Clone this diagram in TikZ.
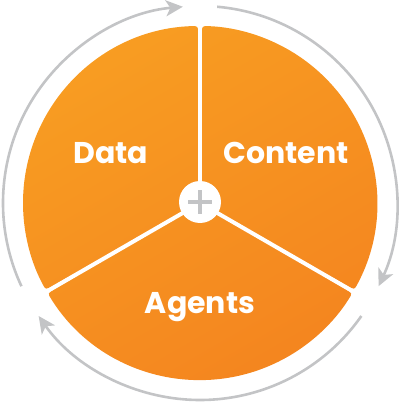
\documentclass[tikz,border=0pt]{standalone}
\usepackage{fontspec}
\setmainfont{Poppins}
\usetikzlibrary{arrows.meta}
\definecolor{orA}{HTML}{F89E22}
\definecolor{orB}{HTML}{F4841F}
\definecolor{ringgray}{HTML}{C3C4C6}
\begin{document}
\begin{tikzpicture}[x=1pt,y=1pt,
  ringarc/.style={draw=ringgray,line width=2.6pt,
    -{Stealth[length=17pt,width=16pt,inset=4.5pt]}},
  label/.style={text=white,font=\fontsize{30}{33}\selectfont\bfseries,anchor=base,inner sep=0pt}]
\useasboundingbox (-200,-201) rectangle (201,203);
\coordinate (c) at (0,0);
% orange sectors
\def\R{177}
\begin{scope}
\clip[rounded corners=3pt]
  (90.8:10) -- (90.65:\R) arc[start angle=90.65,end angle=209.35,radius=\R] -- (209.2:10) -- cycle
  (210.8:10) -- (210.65:\R) arc[start angle=210.65,end angle=329.35,radius=\R] -- (329.2:10) -- cycle
  (330.8:10) -- (330.65:\R) arc[start angle=330.65,end angle=449.35,radius=\R] -- (449.2:10) -- cycle;
\shade[top color=orA,bottom color=orB,shading angle=30] (-200,-200) rectangle (200,200);
\end{scope}
\draw[white,line width=4pt] (c) -- (90:\R+2);
\draw[white,line width=4pt] (c) -- (210:\R+2);
\draw[white,line width=4pt] (c) -- (330:\R+2);
% center plus
\node[circle,fill=white,minimum size=42pt,inner sep=0pt] (plus) at (0,1) {};
\draw[ringgray,line width=3.5pt] ([xshift=-12pt]plus.center) -- ([xshift=12pt]plus.center);
\draw[ringgray,line width=3.5pt] ([yshift=-12pt]plus.center) -- ([yshift=12pt]plus.center);
% arrows ring
\def\Rr{197}
\path[ringarc] (205:\Rr) arc[start angle=205,end angle=95,radius=\Rr];
\path[ringarc] (85:\Rr) arc[start angle=85,end angle=-25,radius=\Rr];
\path[ringarc] (-35:\Rr) arc[start angle=-35,end angle=-145,radius=\Rr];
% labels
\node[label] (data) at (-89,39) {Data};
\node[label] (content) at (86,39) {Content};
\node[label] (agents) at (0,-110) {Agents};
\end{tikzpicture}
\end{document}
